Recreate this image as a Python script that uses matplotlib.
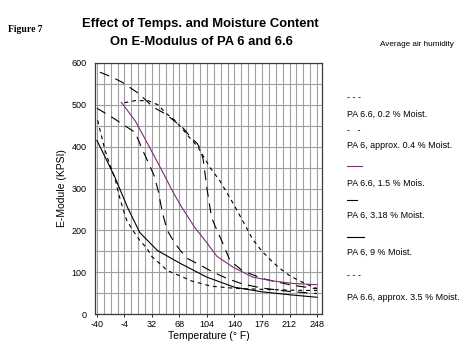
import numpy as np
import matplotlib
matplotlib.use("Agg")
import matplotlib.pyplot as plt
from matplotlib.lines import Line2D

plt.rcParams['font.family'] = ['Liberation Sans', 'DejaVu Sans']
plt.rcParams['axes.unicode_minus'] = False

# ##### DATA #####
# PA 6.6, 0.2 % Moist.
t_pa66_02 = [-4, 10, 27, 40, 49, 62, 73, 82, 92, 108, 121, 138, 151, 164, 176, 189, 200, 212, 224, 236, 248]
e_pa66_02 = [505, 510, 510, 500, 482, 463, 440, 420, 400, 350, 318, 265, 222, 178, 150, 126, 108, 92, 80, 70, 61]

# PA 6, approx. 0.4 % Moist.
t_pa6_04 = [-36, -20, -7, 14, 27, 33, 50, 65, 73, 84, 91, 95, 99, 104, 110, 114, 125, 134, 150, 176, 212, 248]
e_pa6_04 = [578, 566, 554, 528, 506, 495, 478, 456, 444, 420, 408, 396, 370, 300, 231, 213, 168, 128, 104, 85, 70, 60]

# PA 6.6, 1.5 % Mois.
t_pa66_15 = [-8, 10, 27, 45, 60, 71, 88, 104, 117, 138, 164, 190, 217, 248]
e_pa66_15 = [506, 462, 405, 343, 290, 255, 207, 170, 138, 112, 88, 79, 73, 70]

# PA 6, 3.18 % Moist.
t_pa6_318 = [-40, -20, -10, 10, 19, 29, 35, 40, 46, 52, 60, 69, 78, 95, 110, 130, 150, 176, 212, 248]
e_pa6_318 = [492, 470, 458, 434, 395, 355, 330, 296, 240, 200, 175, 152, 133, 117, 102, 85, 72, 62, 54, 49]

# PA 6, 9 % Moist.
t_pa6_9 = [-40, -30, -16, 0, 16, 39, 69, 104, 140, 176, 212, 248]
e_pa6_9 = [415, 378, 325, 255, 195, 152, 121, 88, 64, 53, 46, 40]

# PA 6.6, approx. 3.5 % Moist.
t_pa66_35 = [-39, -36, -30, -26, -20, -16, -12, -6, -1, 7, 16, 25, 32, 42, 52, 73, 82, 104, 112, 143, 176, 212, 248]
e_pa66_35 = [463, 440, 396, 372, 342, 322, 290, 252, 224, 200, 176, 158, 137, 121, 104, 88, 80, 69, 66, 61, 59, 57, 56]

x_ticks = [-40, -4, 32, 68, 104, 140, 176, 212, 248]
y_ticks = [0, 100, 200, 300, 400, 500, 600]

legend_labels = ["PA 6.6, 0.2 % Moist.",
                 "PA 6, approx. 0.4 % Moist.",
                 "PA 6.6, 1.5 % Mois.",
                 "PA 6, 3.18 % Moist.",
                 "PA 6, 9 % Moist.",
                 "PA 6.6, approx. 3.5 % Moist."]

purple = '#7a2f78'

##### PLOT #####
fig = plt.figure(figsize=(4.74, 3.48), dpi=100, facecolor='white')
ax = fig.add_axes([95 / 474, 1 - 314 / 348, 227 / 474, 251 / 348])

short_dash = (0, (3.5, 3.5))
long_dash = (0, (9, 6))
lw = 0.8
ax.plot(t_pa66_02, e_pa66_02, color='k', lw=lw, linestyle=short_dash)
ax.plot(t_pa6_04, e_pa6_04, color='k', lw=lw, linestyle=long_dash)
ax.plot(t_pa66_15, e_pa66_15, color=purple, lw=lw)
ax.plot(t_pa6_318, e_pa6_318, color='k', lw=lw, linestyle=long_dash)
ax.plot(t_pa6_9, e_pa6_9, color='k', lw=lw)
ax.plot(t_pa66_35, e_pa66_35, color='k', lw=lw, linestyle=short_dash)

ax.set_xlim(-42.5, 254.5)
ax.set_ylim(0, 600)
ax.set_xticks(x_ticks)
ax.set_xticks(np.arange(-40, 249, 9), minor=True)
ax.set_yticks(y_ticks)
ax.set_yticks(np.arange(0, 601, 50), minor=True)
ax.tick_params(axis='both', which='major', labelsize=6.5, length=2.5, width=0.6, pad=2)
ax.tick_params(axis='y', which='major', length=0, pad=6)
ax.tick_params(which='minor', length=0)
ax.set_axisbelow(True)
ax.grid(which='both', color='#a0a0a0', linewidth=0.8)
for s in ax.spines.values():
    s.set_color('#3a3a3a')
    s.set_linewidth(0.9)

ax.set_xlabel('Temperature (° F)', fontsize=7.5, labelpad=1)
ax.set_ylabel('E-Module (KPSI)', fontsize=7.5, labelpad=3)

fig.text(200 / 474, 1 - 24 / 348, 'Effect of Temps. and Moisture Content', ha='center', va='center',
         fontsize=9.4, fontweight='bold')
fig.text(201 / 474, 1 - 42 / 348, 'On E-Modulus of PA 6 and 6.6', ha='center', va='center',
         fontsize=9.4, fontweight='bold')
fig.text(8 / 474, 1 - 29 / 348, 'Figure 7', ha='left', va='center', fontsize=6.9,
         fontweight='bold', family=['Liberation Serif', 'DejaVu Serif'])
fig.text(380 / 474, 1 - 44 / 348, 'Average air humidity', ha='left', va='center', fontsize=5.9)

##### LEGEND #####
x0 = 347 / 474
sym_y = [98, 131, 166, 200, 237, 275]
txt_y = [114, 146, 183, 215, 252, 297]
fig.text(x0, 1 - sym_y[0] / 348, '- - -', ha='left', va='center', fontsize=6.4)
fig.text(x0, 1 - sym_y[1] / 348, '-   -', ha='left', va='center', fontsize=6.4)
fig.add_artist(Line2D([x0, 362 / 474], [1 - sym_y[2] / 348] * 2, color=purple, lw=0.8))
fig.add_artist(Line2D([x0, 357 / 474], [1 - sym_y[3] / 348] * 2, color='k', lw=0.8))
fig.add_artist(Line2D([x0, 364 / 474], [1 - sym_y[4] / 348] * 2, color='k', lw=0.8))
fig.text(x0, 1 - sym_y[5] / 348, '- - -', ha='left', va='center', fontsize=6.4)
for lab, y in zip(legend_labels, txt_y):
    fig.text(x0, 1 - y / 348, lab, ha='left', va='center', fontsize=6.4)

plt.savefig('out.png', dpi=100, facecolor='white')
